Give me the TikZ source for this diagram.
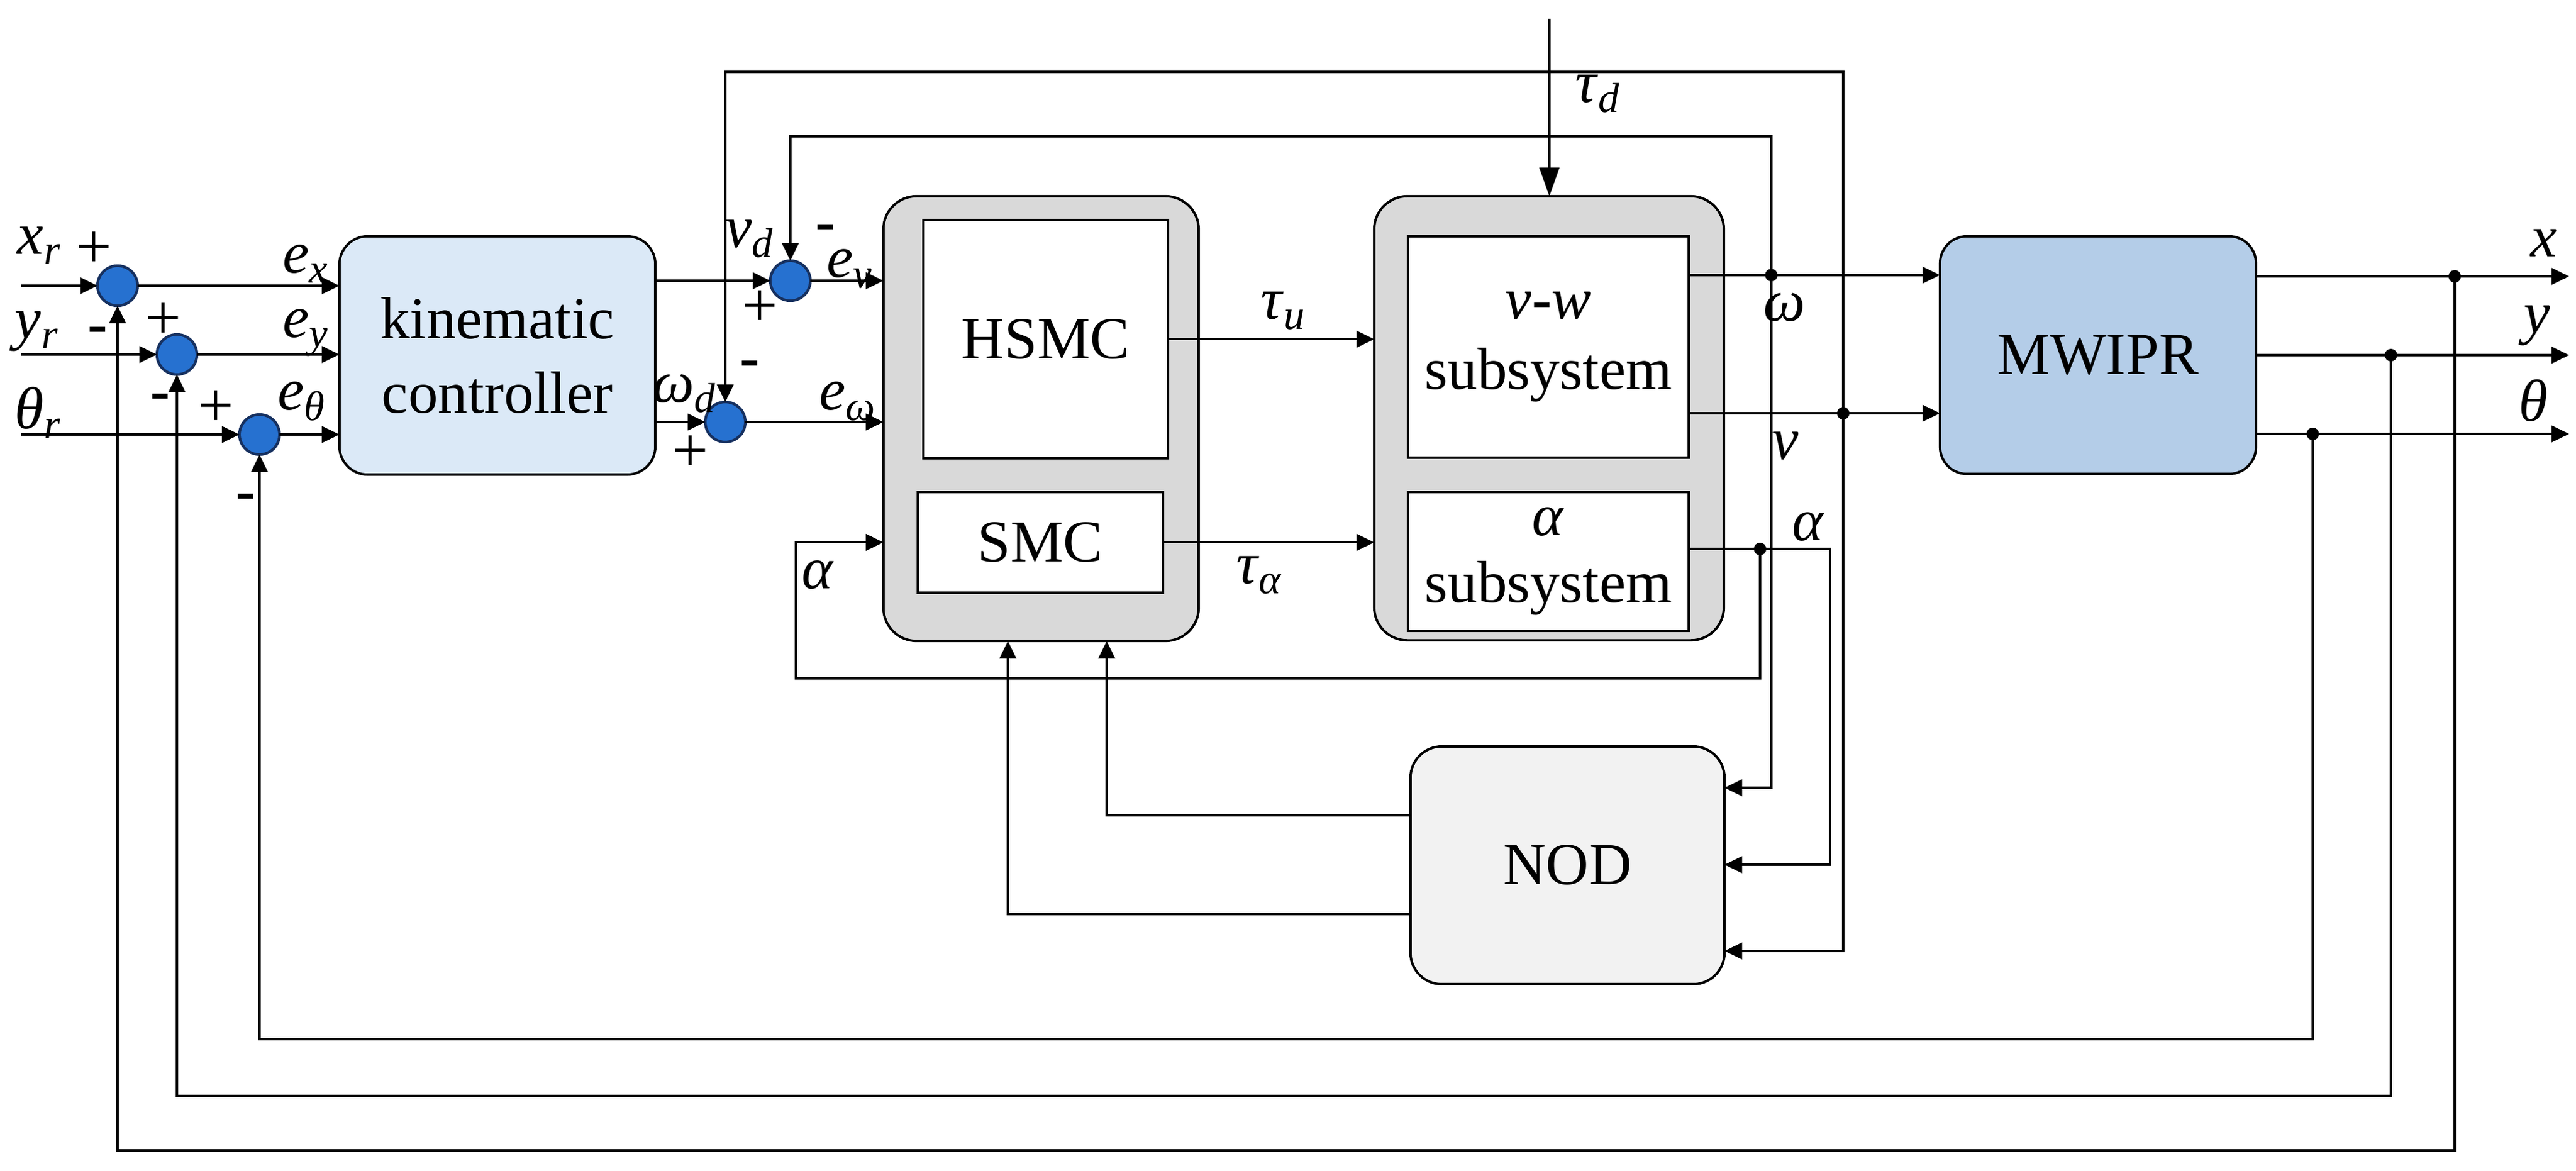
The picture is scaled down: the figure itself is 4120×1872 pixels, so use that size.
\documentclass[tikz,border=0pt]{standalone}
\usepackage{fontspec}
\setmainfont{Liberation Serif}
\usetikzlibrary{arrows.meta}
\definecolor{kcblue}{RGB}{219,233,247}
\definecolor{mwblue}{RGB}{180,205,232}
\definecolor{grpgray}{RGB}{217,217,217}
\definecolor{nodgray}{RGB}{242,242,242}
\definecolor{sumblue}{RGB}{38,113,208}
\definecolor{sumdark}{RGB}{22,48,95}
\newcommand\lbl[2]{\textit{#1}\raisebox{-0.17em}{\fontsize{19}{19}\selectfont\itshape #2}}
\begin{document}
\begin{tikzpicture}[x=0.01cm,y=-0.01cm,
  ln/.style={line width=1pt},
  arr/.style={line width=1pt,-{Triangle[length=8pt,width=7.5pt]}},
  blk/.style={draw=black,line width=1.1pt,inner sep=0pt,outer sep=0pt,font=\fontsize{27}{33}\selectfont,align=center},
  sumc/.style={circle,draw=sumdark,fill=sumblue,line width=1.2pt,minimum size=0.64cm,inner sep=0pt,outer sep=0pt},
  jdot/.style={circle,fill=black,minimum size=0.2cm,inner sep=0pt,outer sep=0pt},
  lab/.style={font=\fontsize{27}{32}\selectfont,inner sep=0pt,outer sep=0pt},
  plussign/.style={font=\fontsize{29}{34}\selectfont,inner sep=0pt,outer sep=0pt},
  minussign/.style={font=\fontsize{27}{32}\selectfont\bfseries,inner sep=0pt,outer sep=0pt}]

\useasboundingbox (0,0) rectangle (4120,1872);

% ---------- blocks ----------
\node[blk,rounded corners=0.45cm,fill=kcblue,minimum width=5.05cm,minimum height=3.81cm,
      font=\fontsize{27}{34}\selectfont] (KC) at (795.5,568.5) {kinematic\\controller};
\node[blk,rounded corners=0.53cm,fill=grpgray,minimum width=5.04cm,minimum height=7.11cm] (GL) at (1665,669.5) {};
\node[blk,fill=white,minimum width=3.91cm,minimum height=3.81cm] (HS) at (1672.5,542.5) {HSMC};
\node[blk,fill=white,minimum width=3.92cm,minimum height=1.61cm] (SM) at (1664,867.5) {SMC};
\node[blk,rounded corners=0.53cm,fill=grpgray,minimum width=5.59cm,minimum height=7.10cm] (GR) at (2477.5,669) {};
\node[blk,fill=white,minimum width=4.49cm,minimum height=3.54cm,
      font=\fontsize{27}{32}\selectfont] (VW) at (2476.5,555) {\textit{v}-\textit{w}\\subsystem};
\node[blk,fill=white,minimum width=4.49cm,minimum height=2.22cm,
      font=\fontsize{27}{30.5}\selectfont] (AS) at (2476.5,898) {\textit{α}\\subsystem};
\node[blk,rounded corners=0.43cm,fill=mwblue,minimum width=5.05cm,minimum height=3.80cm] (MW) at (3355.5,568) {MWIPR};
\node[blk,rounded corners=0.5cm,fill=nodgray,minimum width=5.02cm,minimum height=3.80cm] (NOD) at (2507,1384) {NOD};

% ---------- summing junctions ----------
\node[sumc] (S1) at (188,457) {};
\node[sumc] (S2) at (283,567) {};
\node[sumc] (S3) at (415,695) {};
\node[sumc] (SV) at (1264,449) {};
\node[sumc] (SW) at (1160,675) {};

% ---------- junction dots ----------
\node[jdot] (dw) at (2833,440) {};
\node[jdot] (dv) at (2948,661) {};
\node[jdot] (da) at (2815,878) {};
\node[jdot] (dx) at (3926,442) {};
\node[jdot] (dy) at (3824,568) {};
\node[jdot] (dt) at (3699,694) {};

% ---------- helper coordinates ----------
\coordinate (xin) at (34,457);
\coordinate (yin) at (34,567);
\coordinate (tin) at (34,695);
\coordinate (td) at (2478,30);
\coordinate (t1) at (0,115);
\coordinate (t2) at (0,218);
\coordinate (nw) at (0,1260);
\coordinate (na) at (0,1383);
\coordinate (nv) at (0,1521);
\coordinate (ar) at (2927,0);
\coordinate (ab) at (1273,1085);
\coordinate (o1) at (1770,1304);
\coordinate (o2) at (1612,1462);
\coordinate (fb1) at (0,1840);
\coordinate (fb2) at (0,1753);
\coordinate (fb3) at (0,1662);
\coordinate (xo) at (4109,0);

% ---------- reference inputs ----------
\draw[arr] (xin) -- (S1);
\draw[arr] (yin) -- (S2);
\draw[arr] (tin) -- (S3);
\draw[arr] (S1) -- (S1 -| KC.west);
\draw[arr] (S2) -- (S2 -| KC.west);
\draw[arr] (S3) -- (S3 -| KC.west);

% ---------- kinematic outputs ----------
\draw[arr] (KC.east |- SV) -- (SV);
\draw[arr] (KC.east |- SW) -- (SW);
\draw[arr] (SV) -- (SV -| GL.west);
\draw[arr] (SW) -- (SW -| GL.west);

% ---------- controllers to plant ----------
\draw[arr] (HS.east) -- (HS.east -| GR.west);
\draw[arr] (SM.east) -- (SM.east -| GR.west);
\draw[arr,-{Triangle[length=13pt,width=9pt]}] (td) -- (td |- GR.north);

% ---------- plant outputs ----------
\draw[arr] (VW.east |- dw.center) -- (dw.center -| MW.west);
\draw[arr] (VW.east |- dv.center) -- (dv.center -| MW.west);
\draw[ln] (AS.east |- da.center) -- (da.center);

% ---------- velocity feedback loops ----------
\draw[arr] (dv.center) |- (SW.north |- t1) -- (SW.north);
\draw[arr] (dv.center) |- (NOD.east |- nv);
\draw[arr] (dw.center) |- (SV.north |- t2) -- (SV.north);
\draw[arr] (dw.center) |- (NOD.east |- nw);

% ---------- alpha loops ----------
\draw[arr] (da.center) -- (da.center -| ar) |- (NOD.east |- na);
\draw[arr] (da.center) |- (ab) |- (GL.west |- SM.east);

% ---------- NOD outputs ----------
\draw[arr] (NOD.west |- o1) -| (GL.south -| o1);
\draw[arr] (NOD.west |- o2) -| (GL.south -| o2);

% ---------- MWIPR outputs ----------
\draw[arr] (MW.east |- dx.center) -- (dx.center -| xo);
\draw[arr] (MW.east |- dy.center) -- (dy.center -| xo);
\draw[arr] (MW.east |- dt.center) -- (dt.center -| xo);

% ---------- pose feedback ----------
\draw[arr] (dx.center) |- (S1 |- fb1) -- (S1);
\draw[arr] (dy.center) |- (S2 |- fb2) -- (S2);
\draw[arr] (dt.center) |- (S3 |- fb3) -- (S3);

% ---------- labels ----------
\node[lab] at (62,393) {\lbl{x}{r}};
\node[lab] at (58,530) {\lbl{y}{r}};
\node[lab] at (60,660) {\lbl{θ}{r}};
\node[plussign] at (150,400) {+};
\node[minussign] at (156,536) {-};
\node[plussign] at (261,514) {+};
\node[minussign] at (256,643) {-};
\node[plussign] at (345,654) {+};
\node[minussign] at (393,803) {-};
\node[lab] at (488,422) {\lbl{e}{x}};
\node[lab] at (488,532) {\lbl{e}{y}};
\node[lab] at (482,642) {\lbl{e}{θ}};
\node[lab] at (1198,382) {\lbl{v}{d}};
\node[minussign] at (1320,372) {-};
\node[lab] at (1358,430) {\lbl{e}{v}};
\node[plussign] at (1215,494) {+};
\node[minussign] at (1199,590) {-};
\node[lab] at (1094,630) {\lbl{ω}{d}};
\node[plussign] at (1104,726) {+};
\node[lab] at (1355,642) {\lbl{e}{ω}};
\node[lab] at (2052,497) {\lbl{τ}{u}};
\node[lab] at (2013,920) {\lbl{τ}{α}};
\node[lab] at (1308,920) {\textit{α}};
\node[lab] at (2555,150) {\lbl{τ}{d}};
\node[lab] at (2854,492) {\textit{ω}};
\node[lab] at (2856,713) {\textit{v}};
\node[lab] at (2892,843) {\textit{α}};
\node[lab] at (4069,389) {\textit{x}};
\node[lab] at (4058,521) {\textit{y}};
\node[lab] at (4052,641) {\textit{θ}};
\end{tikzpicture}
\end{document}
